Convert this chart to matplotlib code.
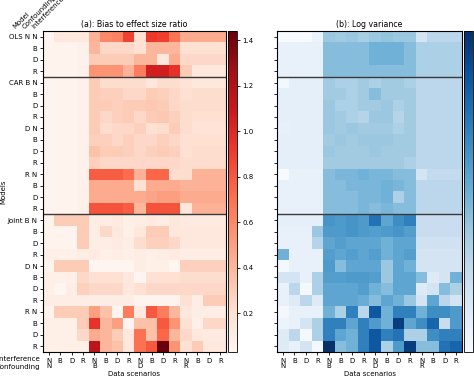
import numpy as np
import matplotlib
matplotlib.use("Agg")
import matplotlib.pyplot as plt

# Row labels (model / confounding / interference) and column labels
row_labels = ["OLS N N", "B", "D", "R",
              "CAR B N", "B", "D", "R",
              "D N", "B", "D", "R",
              "R N", "B", "D", "R",
              "Joint B N", "B", "D", "R",
              "D N", "B", "D", "R",
              "R N", "B", "D", "R"]
col_labels = ["N\nN", "B", "D", "R",
              "N\nB", "B", "D", "R",
              "N\nD", "B", "D", "R",
              "N\nR", "B", "D", "R"]
group_breaks = [4, 16]

# (a) bias to effect size ratio
bias = [
    [0.03, 0.15, 0.15, 0.15, 0.42, 0.60, 0.62, 0.88, 0.20, 0.92, 0.90, 0.68, 0.45, 0.45, 0.45, 0.45],
    [0.05, 0.05, 0.05, 0.06, 0.40, 0.25, 0.25, 0.25, 0.20, 0.40, 0.40, 0.40, 0.20, 0.20, 0.20, 0.20],
    [0.05, 0.05, 0.05, 0.06, 0.30, 0.30, 0.30, 0.30, 0.40, 0.40, 0.15, 0.45, 0.25, 0.25, 0.25, 0.25],
    [0.05, 0.05, 0.05, 0.06, 0.55, 0.55, 0.55, 0.42, 0.65, 1.05, 1.05, 0.95, 0.30, 0.15, 0.15, 0.15],
    [0.04, 0.05, 0.05, 0.06, 0.30, 0.22, 0.22, 0.22, 0.22, 0.15, 0.22, 0.22, 0.18, 0.15, 0.15, 0.15],
    [0.04, 0.05, 0.05, 0.06, 0.30, 0.28, 0.28, 0.25, 0.25, 0.30, 0.28, 0.25, 0.20, 0.22, 0.22, 0.22],
    [0.04, 0.05, 0.05, 0.06, 0.30, 0.30, 0.28, 0.30, 0.30, 0.32, 0.30, 0.25, 0.22, 0.22, 0.22, 0.22],
    [0.04, 0.05, 0.05, 0.06, 0.30, 0.25, 0.28, 0.30, 0.25, 0.30, 0.32, 0.28, 0.22, 0.20, 0.20, 0.20],
    [0.04, 0.05, 0.05, 0.06, 0.30, 0.22, 0.25, 0.25, 0.28, 0.20, 0.22, 0.30, 0.22, 0.18, 0.18, 0.18],
    [0.04, 0.05, 0.05, 0.06, 0.28, 0.28, 0.25, 0.28, 0.25, 0.25, 0.28, 0.25, 0.20, 0.20, 0.20, 0.20],
    [0.04, 0.05, 0.05, 0.06, 0.35, 0.30, 0.30, 0.28, 0.25, 0.28, 0.30, 0.28, 0.20, 0.22, 0.22, 0.22],
    [0.04, 0.05, 0.05, 0.06, 0.28, 0.25, 0.25, 0.25, 0.25, 0.25, 0.25, 0.25, 0.22, 0.22, 0.22, 0.22],
    [0.04, 0.05, 0.05, 0.06, 0.78, 0.78, 0.78, 0.72, 0.42, 0.75, 0.75, 0.22, 0.22, 0.42, 0.42, 0.42],
    [0.04, 0.05, 0.05, 0.06, 0.45, 0.45, 0.45, 0.45, 0.20, 0.45, 0.45, 0.45, 0.42, 0.42, 0.42, 0.42],
    [0.04, 0.05, 0.05, 0.06, 0.45, 0.45, 0.45, 0.45, 0.45, 0.48, 0.50, 0.50, 0.45, 0.45, 0.45, 0.45],
    [0.04, 0.05, 0.05, 0.06, 0.82, 0.82, 0.82, 0.78, 0.40, 0.82, 0.82, 0.82, 0.15, 0.42, 0.42, 0.42],
    [0.05, 0.30, 0.30, 0.30, 0.10, 0.10, 0.12, 0.08, 0.10, 0.12, 0.10, 0.15, 0.12, 0.12, 0.12, 0.12],
    [0.05, 0.05, 0.05, 0.30, 0.10, 0.25, 0.15, 0.08, 0.15, 0.30, 0.30, 0.15, 0.15, 0.15, 0.15, 0.15],
    [0.05, 0.05, 0.05, 0.30, 0.10, 0.10, 0.12, 0.10, 0.22, 0.28, 0.28, 0.25, 0.15, 0.15, 0.15, 0.15],
    [0.08, 0.08, 0.08, 0.10, 0.12, 0.08, 0.10, 0.08, 0.10, 0.08, 0.10, 0.12, 0.10, 0.10, 0.10, 0.10],
    [0.05, 0.30, 0.30, 0.30, 0.03, 0.03, 0.03, 0.03, 0.10, 0.08, 0.08, 0.03, 0.28, 0.28, 0.28, 0.28],
    [0.08, 0.08, 0.08, 0.25, 0.20, 0.20, 0.20, 0.15, 0.03, 0.20, 0.20, 0.20, 0.22, 0.22, 0.22, 0.22],
    [0.08, 0.03, 0.10, 0.28, 0.25, 0.25, 0.25, 0.15, 0.20, 0.25, 0.25, 0.25, 0.25, 0.25, 0.25, 0.25],
    [0.10, 0.10, 0.10, 0.10, 0.10, 0.10, 0.10, 0.10, 0.05, 0.05, 0.05, 0.05, 0.20, 0.10, 0.30, 0.30],
    [0.05, 0.30, 0.30, 0.30, 0.50, 0.35, 0.05, 0.65, 0.12, 0.80, 0.65, 0.40, 0.15, 0.10, 0.10, 0.10],
    [0.08, 0.08, 0.08, 0.30, 0.95, 0.40, 0.50, 0.03, 0.35, 0.35, 0.80, 0.55, 0.20, 0.08, 0.25, 0.25],
    [0.08, 0.08, 0.08, 0.25, 0.45, 0.40, 0.30, 0.15, 0.70, 0.35, 0.75, 0.40, 0.25, 0.15, 0.12, 0.12],
    [0.08, 0.08, 0.08, 0.08, 1.15, 0.40, 0.35, 0.15, 0.70, 0.80, 1.44, 0.55, 0.20, 0.30, 0.15, 0.15],
]

# (b) log variance (relative scale)
logvar = [
    [0.03, 0.03, 0.03, 0.08, 0.40, 0.38, 0.40, 0.36, 0.40, 0.42, 0.40, 0.40, 0.20, 0.30, 0.30, 0.30],
    [0.10, 0.10, 0.10, 0.10, 0.45, 0.45, 0.45, 0.45, 0.50, 0.50, 0.50, 0.45, 0.35, 0.35, 0.35, 0.35],
    [0.10, 0.10, 0.10, 0.10, 0.45, 0.45, 0.45, 0.45, 0.50, 0.50, 0.50, 0.45, 0.35, 0.35, 0.35, 0.35],
    [0.10, 0.10, 0.10, 0.10, 0.45, 0.45, 0.45, 0.45, 0.45, 0.45, 0.45, 0.45, 0.35, 0.35, 0.35, 0.35],
    [0.05, 0.12, 0.12, 0.12, 0.38, 0.35, 0.35, 0.38, 0.35, 0.38, 0.38, 0.35, 0.30, 0.30, 0.30, 0.30],
    [0.12, 0.12, 0.12, 0.12, 0.38, 0.38, 0.35, 0.38, 0.45, 0.38, 0.38, 0.38, 0.30, 0.30, 0.30, 0.30],
    [0.12, 0.12, 0.12, 0.12, 0.40, 0.35, 0.35, 0.38, 0.38, 0.40, 0.35, 0.38, 0.30, 0.30, 0.30, 0.30],
    [0.12, 0.12, 0.12, 0.12, 0.40, 0.38, 0.35, 0.32, 0.40, 0.40, 0.32, 0.38, 0.30, 0.30, 0.30, 0.30],
    [0.10, 0.12, 0.12, 0.12, 0.40, 0.38, 0.40, 0.38, 0.38, 0.38, 0.35, 0.38, 0.30, 0.30, 0.30, 0.30],
    [0.12, 0.12, 0.12, 0.12, 0.38, 0.40, 0.38, 0.40, 0.40, 0.40, 0.38, 0.38, 0.30, 0.30, 0.30, 0.30],
    [0.12, 0.12, 0.12, 0.12, 0.40, 0.38, 0.38, 0.38, 0.40, 0.38, 0.38, 0.38, 0.30, 0.30, 0.30, 0.30],
    [0.12, 0.12, 0.12, 0.12, 0.38, 0.38, 0.38, 0.38, 0.38, 0.38, 0.38, 0.35, 0.30, 0.30, 0.30, 0.30],
    [0.03, 0.10, 0.10, 0.10, 0.45, 0.48, 0.48, 0.50, 0.48, 0.48, 0.45, 0.45, 0.20, 0.28, 0.28, 0.28],
    [0.10, 0.10, 0.10, 0.10, 0.45, 0.45, 0.48, 0.48, 0.48, 0.50, 0.48, 0.45, 0.30, 0.30, 0.30, 0.30],
    [0.10, 0.10, 0.10, 0.10, 0.45, 0.45, 0.45, 0.48, 0.48, 0.50, 0.35, 0.45, 0.30, 0.30, 0.30, 0.30],
    [0.10, 0.10, 0.10, 0.10, 0.45, 0.45, 0.45, 0.48, 0.45, 0.48, 0.45, 0.45, 0.30, 0.30, 0.30, 0.30],
    [0.12, 0.12, 0.12, 0.12, 0.62, 0.60, 0.62, 0.60, 0.75, 0.55, 0.65, 0.70, 0.25, 0.25, 0.25, 0.25],
    [0.10, 0.10, 0.10, 0.40, 0.60, 0.60, 0.62, 0.60, 0.58, 0.60, 0.62, 0.58, 0.25, 0.25, 0.25, 0.25],
    [0.10, 0.10, 0.10, 0.32, 0.55, 0.58, 0.55, 0.55, 0.55, 0.50, 0.55, 0.55, 0.22, 0.22, 0.22, 0.22],
    [0.50, 0.10, 0.10, 0.10, 0.58, 0.55, 0.58, 0.55, 0.58, 0.50, 0.55, 0.58, 0.20, 0.20, 0.20, 0.20],
    [0.05, 0.10, 0.10, 0.10, 0.60, 0.45, 0.55, 0.55, 0.55, 0.40, 0.55, 0.50, 0.20, 0.20, 0.20, 0.20],
    [0.20, 0.20, 0.10, 0.35, 0.58, 0.58, 0.60, 0.60, 0.58, 0.40, 0.55, 0.55, 0.45, 0.15, 0.20, 0.50],
    [0.10, 0.30, 0.05, 0.35, 0.55, 0.55, 0.55, 0.58, 0.50, 0.45, 0.55, 0.55, 0.15, 0.20, 0.45, 0.35],
    [0.10, 0.15, 0.30, 0.15, 0.55, 0.55, 0.55, 0.52, 0.45, 0.55, 0.50, 0.40, 0.20, 0.55, 0.30, 0.20],
    [0.05, 0.10, 0.10, 0.10, 0.50, 0.35, 0.70, 0.30, 0.85, 0.50, 0.70, 0.70, 0.50, 0.65, 0.65, 0.60],
    [0.08, 0.10, 0.20, 0.35, 0.70, 0.70, 0.55, 0.70, 0.60, 0.50, 0.95, 0.55, 0.65, 0.80, 0.25, 0.60],
    [0.15, 0.30, 0.05, 0.35, 0.70, 0.55, 0.50, 0.70, 0.85, 0.70, 0.75, 0.35, 0.35, 0.65, 0.70, 0.70],
    [0.15, 0.10, 0.20, 0.05, 1.00, 0.45, 0.50, 0.70, 0.85, 0.35, 0.60, 0.95, 0.45, 0.45, 0.75, 0.80],
]

W, H = 474, 379
FS = 5.0
fig = plt.figure(figsize=(W / 100, H / 100), dpi=100)


def px(x0, y0, x1, y1):
    """Pixel box (top-left origin) to figure fraction rect."""
    return [x0 / W, 1 - y1 / H, (x1 - x0) / W, (y1 - y0) / H]


ax_a = fig.add_axes(px(43, 31, 226, 352))
cax_a = fig.add_axes(px(228, 31, 237, 352))
ax_b = fig.add_axes(px(277, 31, 462, 352))
cax_b = fig.add_axes(px(464, 31, 473, 352))

panels = [
    (ax_a, cax_a, np.array(bias), "Reds", "(a): Bias to effect size ratio"),
    (ax_b, cax_b, np.array(logvar), "Blues", "(b): Log variance"),
]

for ax, cax, data, cmap, title in panels:
    im = ax.imshow(data, cmap=cmap, aspect="auto", interpolation="nearest",
                   vmin=data.min(), vmax=data.max())
    for b in group_breaks:
        ax.axhline(b - 0.5, color="#3a3a3a", lw=1.0)
    ax.set_xticks(range(len(col_labels)))
    ax.set_xticklabels(col_labels, fontsize=FS, va="top", linespacing=0.95)
    ax.set_yticks(range(len(row_labels)))
    ax.tick_params(length=2.5, width=0.6, pad=1.5)
    ax.set_title(title, fontsize=5.7, pad=3)
    ax.set_xlabel("Data scenarios", fontsize=FS, labelpad=1)
    cb = fig.colorbar(im, cax=cax)
    cb.ax.tick_params(labelsize=FS, length=2.5, width=0.6, pad=1.5)
    cb.outline.set_linewidth(0.6)

ax_a.set_yticklabels(row_labels, fontsize=FS)
ax_a.set_ylabel("Models", fontsize=FS)
ax_a.yaxis.set_label_coords(-0.2, 0.5)
ax_b.set_yticklabels([])
cax_a.set_yticks([0.2, 0.4, 0.6, 0.8, 1.0, 1.2, 1.4])
cax_b.set_yticks([])

# axis legend texts
fig.text(40 / W, 1 - 359 / H, "interference", fontsize=FS, ha="right", va="center")
fig.text(40 / W, 1 - 367 / H, "Confounding", fontsize=FS, ha="right", va="center")
for x, lab in [(16, "Model"), (26, "Confounding"), (35, "Interference")]:
    fig.text(x / W, 1 - 30 / H, lab, fontsize=FS, rotation=45,
             rotation_mode="anchor", ha="left", va="bottom")

fig.savefig("out.png", dpi=100)
